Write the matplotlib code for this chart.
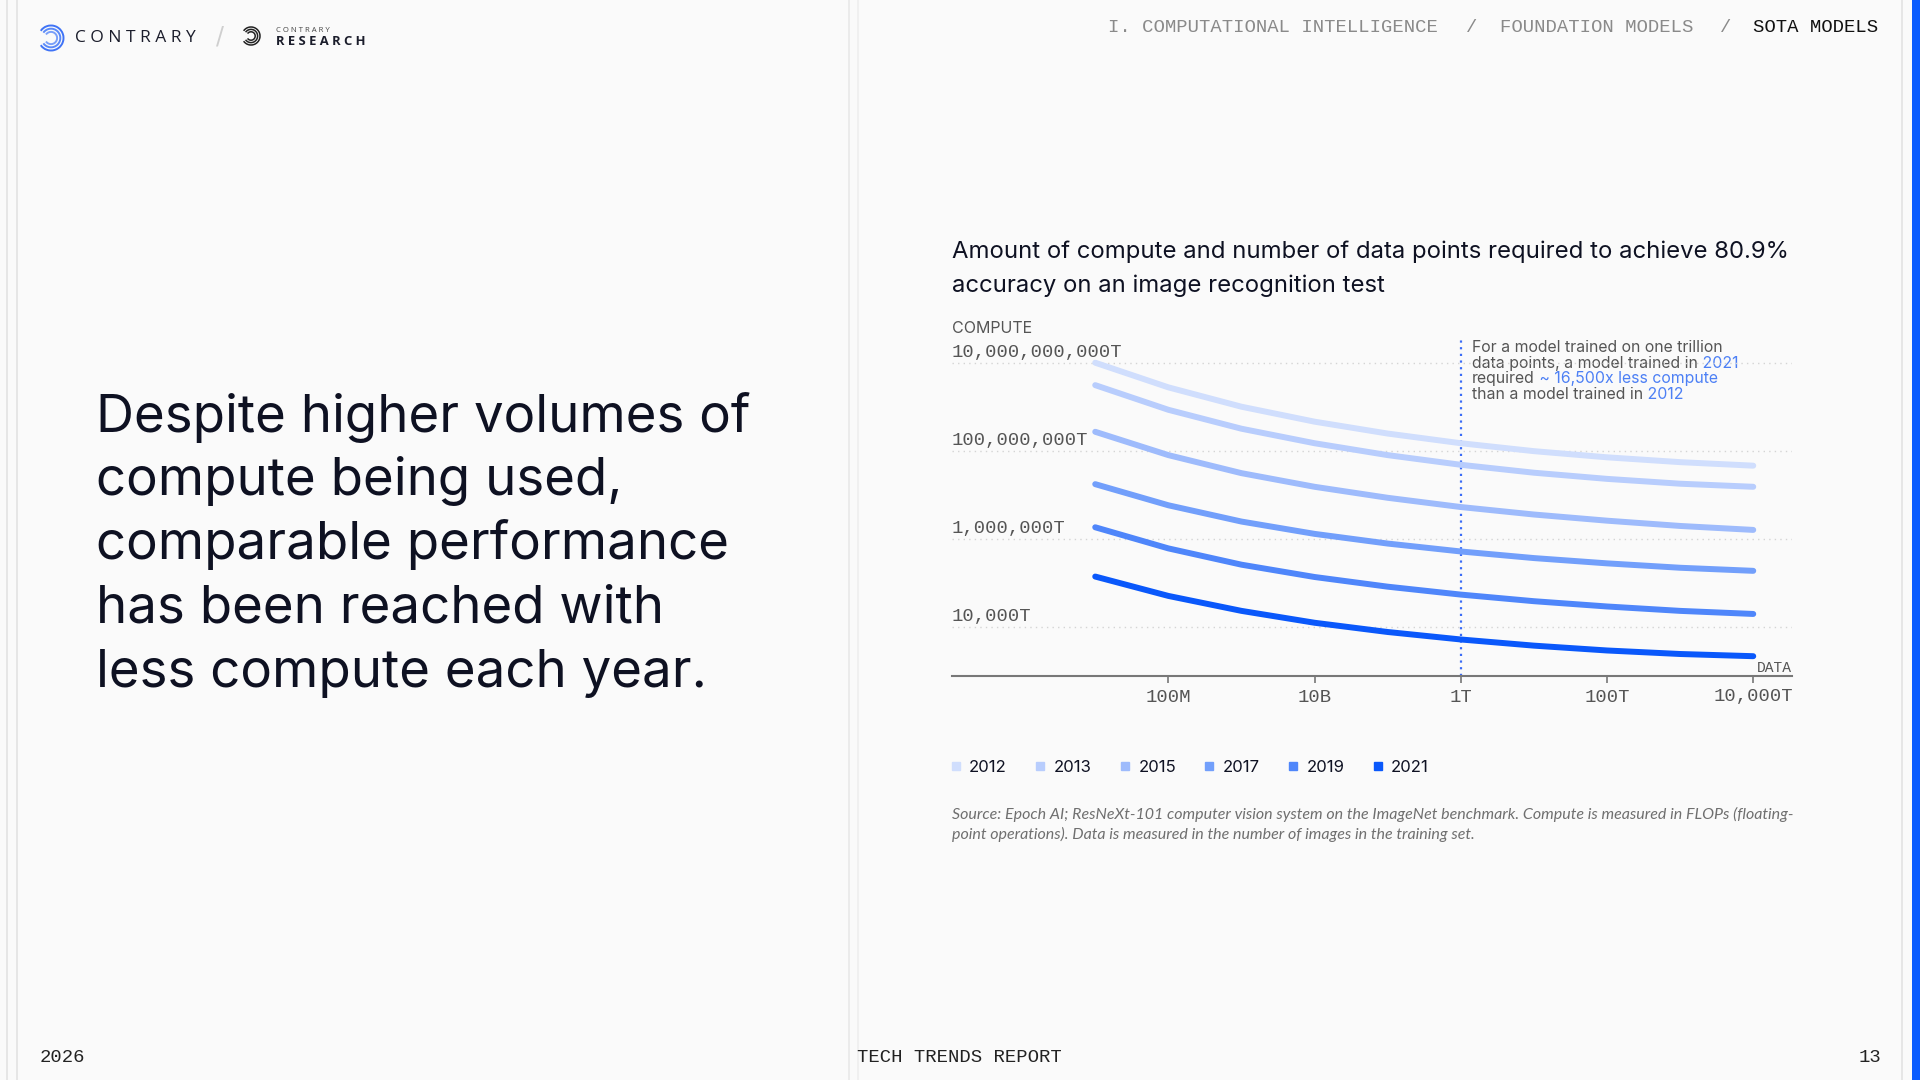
import numpy as np
import matplotlib
matplotlib.use('Agg')
from matplotlib import pyplot as plt
from matplotlib.lines import Line2D
from matplotlib.patches import Arc, Rectangle
from matplotlib.ticker import NullLocator

W, H = 1920, 1080

# data (number of images) and log10 of compute (FLOPs)
data_points = [1e7, 1e8, 1e9, 1e10, 1e11, 1e12, 1e13, 1e14, 1e15, 1e16]
years = ['2012', '2013', '2015', '2017', '2019', '2021']
log_compute_2012 = [22.00, 21.44, 21.00, 20.66, 20.39, 20.17, 19.99, 19.85, 19.74, 19.66]
log_compute_2013 = [21.49, 20.93, 20.50, 20.17, 19.90, 19.68, 19.50, 19.36, 19.25, 19.18]
log_compute_2015 = [20.43, 19.90, 19.49, 19.18, 18.93, 18.72, 18.55, 18.41, 18.29, 18.20]
log_compute_2017 = [19.24, 18.76, 18.39, 18.11, 17.89, 17.71, 17.56, 17.44, 17.34, 17.27]
log_compute_2019 = [18.26, 17.78, 17.41, 17.13, 16.91, 16.73, 16.58, 16.46, 16.36, 16.29]
log_compute_2021 = [17.14, 16.70, 16.36, 16.09, 15.88, 15.71, 15.57, 15.46, 15.38, 15.33]
series = [log_compute_2012, log_compute_2013, log_compute_2015,
          log_compute_2017, log_compute_2019, log_compute_2021]
colors = ['#d0defd', '#b8cdfd', '#9ebbfc', '#729ffb', '#4f86fa', '#0a58fb']

y_ticks = [1e16, 1e18, 1e20, 1e22]
y_labels = ['10,000T', '1,000,000T', '100,000,000T', '10,000,000,000T']
x_ticks = [1e8, 1e10, 1e12, 1e14, 1e16]
x_labels = ['100M', '10B', '1T', '100T', '10,000T']

MONO = 'Liberation Mono'
SANS = 'Inter'
INK = '#0e1122'
GREY = '#555555'
BLUE_TXT = '#4d80f5'

fig = plt.figure(figsize=(19.2, 10.8), dpi=100, facecolor='#fafafa')

# pixel-coordinate overlay for the page furniture
bg = fig.add_axes([0, 0, 1, 1], zorder=0)
bg.set_xlim(0, W)
bg.set_ylim(H, 0)
bg.axis('off')

# page edges and dividers
for x, c in [(7, '#e2e2e2'), (17, '#e2e2e2'), (849, '#e8e8e8'), (858, '#efefef'), (1902, '#e2e2e2')]:
    bg.plot([x, x], [0, H], color=c, lw=1.2)
bg.add_patch(Rectangle((1912, 0), 8, H, color='#0a5cff', lw=0))

# logos
for r, c in [(12.5, '#3f73f6'), (9.3, '#5b8af8'), (6.1, '#7aa0f9')]:
    bg.add_patch(Arc((51, 38), 2 * r, 2 * r, theta1=-145, theta2=145, color=c, lw=1.4))
bg.text(75, 41.7, ' '.join('CONTRARY'), family=['Open Sans', 'DejaVu Sans'],
        fontsize=12.5, color='#1b1d2b', va='baseline')
bg.text(216, 44, '/', family='DejaVu Sans', fontsize=17, color='#cfcfcf', va='baseline')
for r in [9.0, 6.6, 4.2]:
    bg.add_patch(Arc((251, 36), 2 * r, 2 * r, theta1=-145, theta2=145, color='#222', lw=1.1))
bg.text(276.5, 31.5, ' '.join('CONTRARY'), family=['Open Sans', 'DejaVu Sans'],
        fontsize=5.6, color='#444', va='baseline')
bg.text(276.5, 45, ' '.join('RESEARCH'), family=['Open Sans', 'DejaVu Sans'],
        fontsize=9.4, fontweight='bold', color='#1b1d2b', va='baseline')

# breadcrumb
crumbs = [(1108, 'I. COMPUTATIONAL INTELLIGENCE', '#8a8a8a'), (1466, '/', '#8a8a8a'),
          (1500, 'FOUNDATION MODELS', '#8a8a8a'), (1720, '/', '#8a8a8a'),
          (1753, 'SOTA MODELS', '#111111')]
for x, s, c in crumbs:
    bg.text(x, 31.7, s, family=MONO, fontsize=13.6, color=c, va='baseline')

# footer
bg.text(40, 1062, '2026', family=MONO, fontsize=13.6, color='#222', va='baseline')
bg.text(857, 1062, 'TECH TRENDS REPORT', family=MONO, fontsize=13.6, color='#222', va='baseline')
bg.text(1881, 1062, '13', family=MONO, fontsize=13.6, color='#222', va='baseline', ha='right')

# headline
headline = ['Despite higher volumes of', 'compute being used,', 'comparable performance',
            'has been reached with', 'less compute each year.']
for i, line in enumerate(headline):
    bg.text(96, 431.7 + 63.7 * i, line, family=SANS, fontsize=38, color=INK, va='baseline')

# chart title
bg.text(952, 258.3, 'Amount of compute and number of data points required to achieve 80.9%',
        family=SANS, fontsize=17.2, color=INK, va='baseline')
bg.text(952, 291.7, 'accuracy on an image recognition test',
        family=SANS, fontsize=17.2, color=INK, va='baseline')
bg.text(952, 333, 'COMPUTE', family=SANS, fontsize=11.5, color=GREY, va='baseline')

# chart
ax = fig.add_axes([952 / W, 1 - 676 / H, 840 / W, 340 / H], zorder=1)
ax.set_facecolor('none')
ax.set_xscale('log')
ax.set_yscale('log')
ax.set_xlim(10 ** 5.041, 10 ** 16.53)
ax.set_ylim(10 ** 14.88, 10 ** 22.607)

for v in y_ticks:
    ax.axhline(v, color='#d4d4d4', lw=1, ls=(0, (1, 3)), zorder=1)
for v, lab in zip(y_ticks, y_labels):
    ax.annotate(lab, xy=(0, v), xycoords=('axes fraction', 'data'), xytext=(0, 4.3),
                textcoords='offset points', family=MONO, fontsize=13.6, color=GREY,
                va='baseline', ha='left')

ax.plot([1e12, 1e12], [10 ** 14.88, 10 ** 22.52], color='#3b6cf6', lw=1.6,
        ls=(0, (1, 2)), zorder=2)

for vals, c, yr in zip(series, colors, years):
    ax.plot(data_points, np.power(10.0, vals), color=c, lw=4.3,
            solid_capstyle='round', solid_joinstyle='round', zorder=3, label=yr)

for side in ['top', 'right', 'left']:
    ax.spines[side].set_visible(False)
ax.spines['bottom'].set_color('#777777')
ax.spines['bottom'].set_linewidth(1.5)
ax.set_yticks([])
ax.yaxis.set_minor_locator(NullLocator())
ax.xaxis.set_minor_locator(NullLocator())
ax.set_xticks(x_ticks, x_labels, family=MONO, fontsize=13.6, color=GREY)
ax.tick_params(axis='x', length=5, width=1.2, color='#777777', pad=4)

bg.text(1792, 671.5, 'DATA', family=MONO, fontsize=10.5, color=GREY, va='baseline', ha='right')

# annotation with coloured fragments
note = [
    [('For a model trained on one trillion', GREY)],
    [('data points, a model trained in', GREY), (' 2021', BLUE_TXT)],
    [('required', GREY), (' ~ 16,500x less compute', BLUE_TXT)],
    [('than a model trained in', GREY), (' 2012', BLUE_TXT)],
]
for i, parts in enumerate(note):
    prev = None
    for s, c in parts:
        if prev is None:
            prev = bg.text(1472, 351.7 + 15.9 * i, s, family=SANS, fontsize=11.4,
                           color=c, va='baseline')
        else:
            prev = bg.annotate(s, xy=(1, 0), xycoords=prev, va='bottom', ha='left',
                               family=SANS, fontsize=11.4, color=c)

# legend
handles = [Line2D([], [], marker='s', ls='none', color=c, markersize=5.5) for c in colors]
bg.legend(handles, years, loc='center left', bbox_to_anchor=(950, 767),
          bbox_transform=bg.transData, ncol=6, frameon=False, borderpad=0,
          borderaxespad=0, handlelength=0.7, handletextpad=0.45, columnspacing=1.65,
          prop={'family': SANS, 'size': 12})
for t in bg.get_legend().get_texts():
    t.set_color(INK)

# source
bg.text(952, 819, 'Source: Epoch AI; ResNeXt-101 computer vision system on the ImageNet benchmark. '
        'Compute is measured in FLOPs (floating-', family='Lato', style='italic',
        fontsize=11.5, color='#6f6f6f', va='baseline')
bg.text(952, 839, 'point operations). Data is measured in the number of images in the training set.',
        family='Lato', style='italic', fontsize=11.5, color='#6f6f6f', va='baseline')

fig.savefig('out.png', dpi=100, facecolor=fig.get_facecolor())
